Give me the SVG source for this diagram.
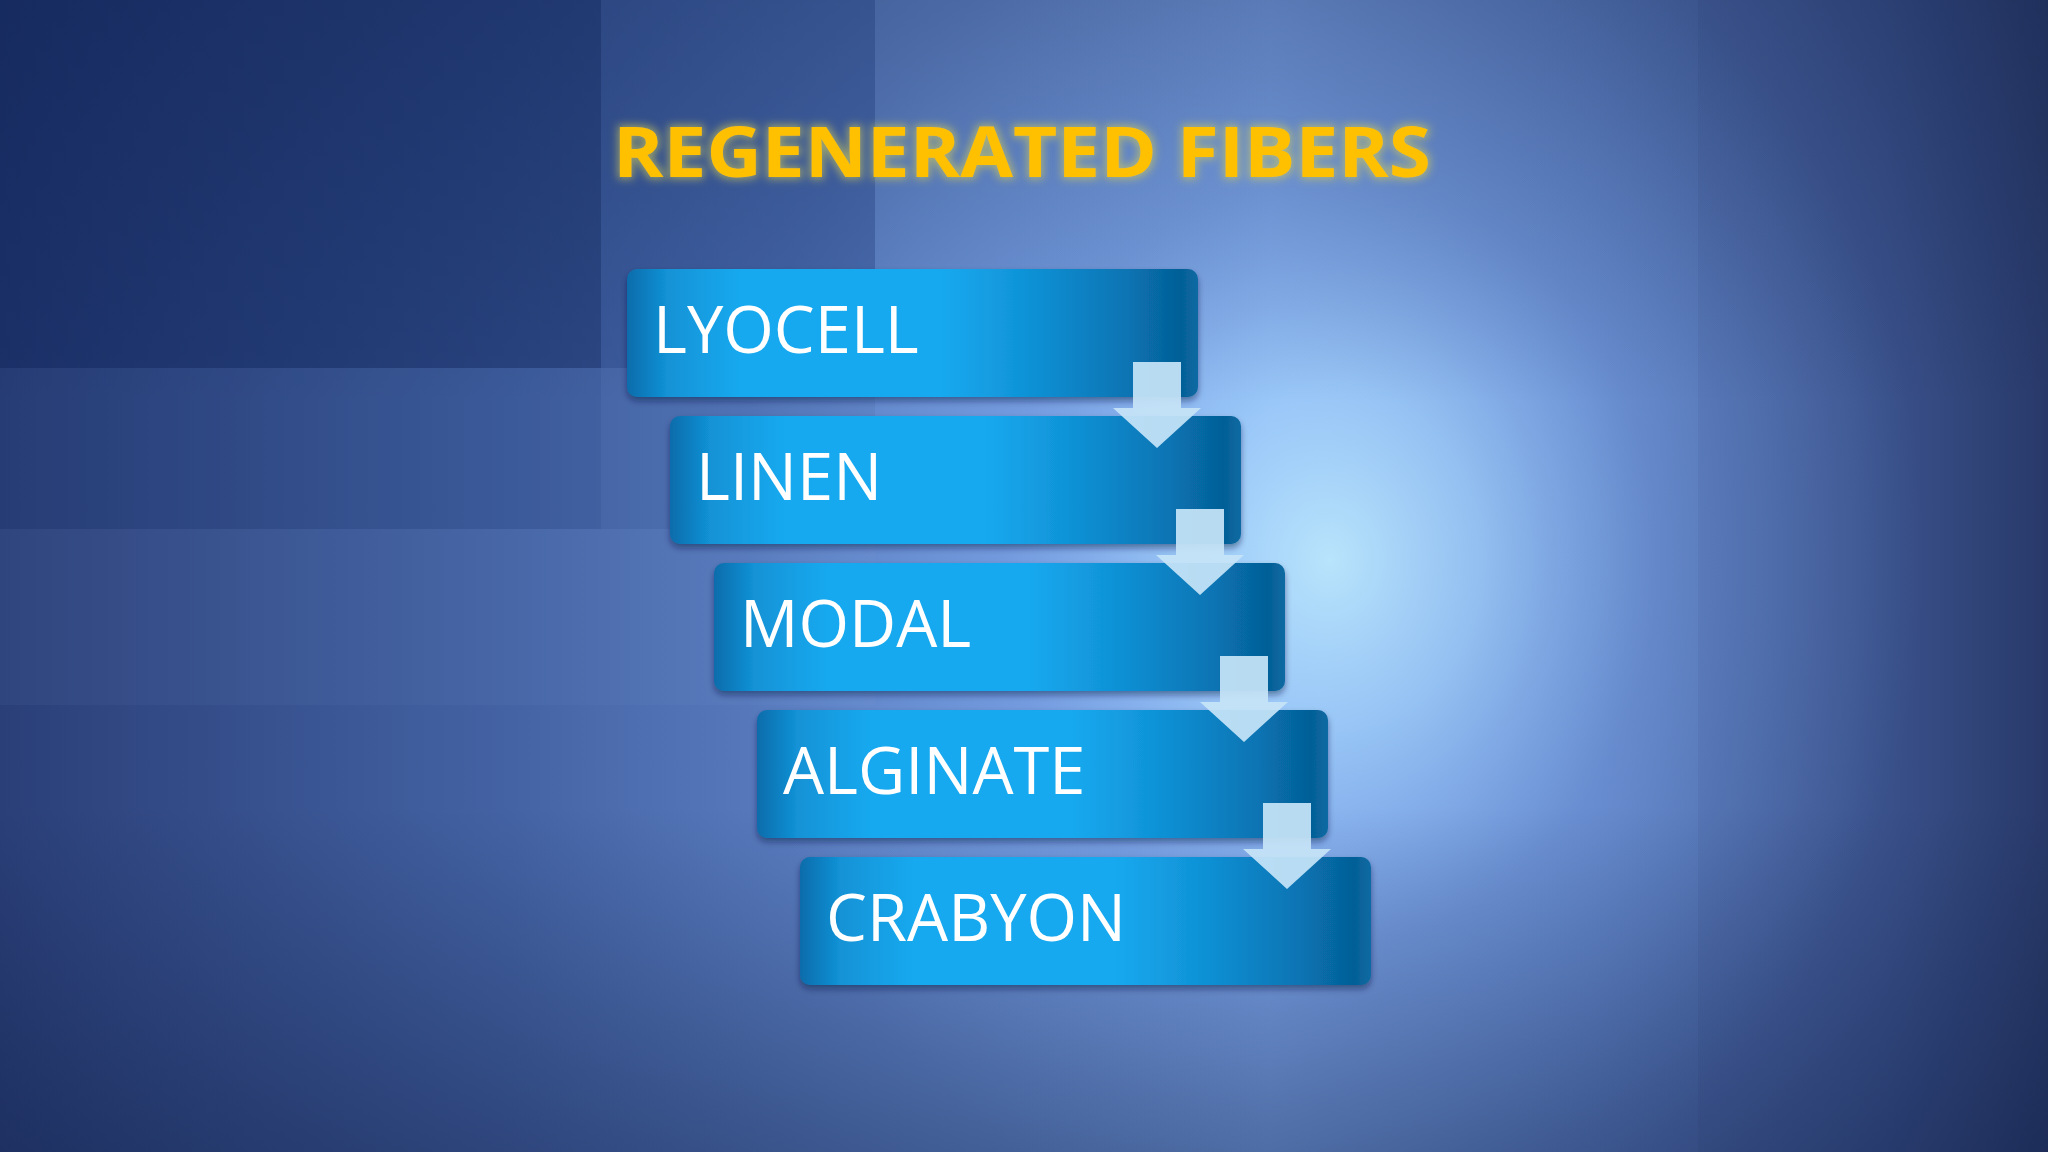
<svg xmlns="http://www.w3.org/2000/svg" width="2048" height="1152" viewBox="0 0 2048 1152">
<defs>
<linearGradient id="bgH" x1="0" y1="0" x2="1" y2="0">
<stop offset="0" stop-color="#2a3f78"/>
<stop offset="0.25" stop-color="#4463a4"/>
<stop offset="0.45" stop-color="#6388cc"/>
<stop offset="0.62" stop-color="#7aa2e8"/>
<stop offset="0.78" stop-color="#5a7cc0"/>
<stop offset="0.92" stop-color="#3c5590"/>
<stop offset="1" stop-color="#2a3c6c"/>
</linearGradient>
<linearGradient id="bgV" x1="0" y1="0" x2="0" y2="1">
<stop offset="0" stop-color="#0c1a40" stop-opacity="0.3"/>
<stop offset="0.35" stop-color="#0c1a40" stop-opacity="0"/>
<stop offset="0.7" stop-color="#0c1a40" stop-opacity="0"/>
<stop offset="1" stop-color="#0c1a40" stop-opacity="0.4"/>
</linearGradient>
<radialGradient id="glow" cx="1330" cy="560" r="700" gradientUnits="userSpaceOnUse" gradientTransform="translate(1330 560) scale(0.85 1) translate(-1330 -560)">
<stop offset="0" stop-color="#c0ecff" stop-opacity="0.9"/>
<stop offset="0.25" stop-color="#a6d6ff" stop-opacity="0.7"/>
<stop offset="0.55" stop-color="#88b4f4" stop-opacity="0.3"/>
<stop offset="1" stop-color="#80b0f0" stop-opacity="0"/>
</radialGradient>
<linearGradient id="boxGrad" x1="0" y1="0" x2="1" y2="0">
<stop offset="0" stop-color="#0a6cab"/>
<stop offset="0.07" stop-color="#1292d6"/>
<stop offset="0.2" stop-color="#17a9ef"/>
<stop offset="0.55" stop-color="#17a9ef"/>
<stop offset="0.72" stop-color="#0f8fd3"/>
<stop offset="0.88" stop-color="#0873b2"/>
<stop offset="0.97" stop-color="#055f96"/>
<stop offset="1" stop-color="#0a6aa3"/>
</linearGradient>
<filter id="shadow" x="-5%" y="-10%" width="110%" height="130%">
<feDropShadow dx="0" dy="4" stdDeviation="3" flood-color="#0a1840" flood-opacity="0.45"/>
</filter>
<filter id="titleGlow" x="-5%" y="-30%" width="110%" height="160%">
<feMorphology in="SourceAlpha" operator="dilate" radius="2" result="d"/>
<feGaussianBlur in="d" stdDeviation="4" result="b"/>
<feFlood flood-color="#d8d050" flood-opacity="0.6"/>
<feComposite in2="b" operator="in" result="g"/>
<feMerge><feMergeNode in="g"/><feMergeNode in="SourceGraphic"/></feMerge>
</filter>
<style>
.box{fill:url(#boxGrad);filter:url(#shadow);}
.lbl{font-family:"Open Sans","Noto Sans","DejaVu Sans",sans-serif;font-size:65px;fill:#ffffff;}
.arrow{fill:#c6e4f7;fill-opacity:0.93;}
.title{font-family:"Open Sans","Noto Sans","DejaVu Sans",sans-serif;font-weight:700;font-size:70px;fill:#ffc000;}
</style>
</defs>

<g id="background">
<rect x="0" y="0" width="2048" height="1152" fill="url(#bgH)"/>
<rect x="0" y="0" width="2048" height="1152" fill="url(#glow)"/>
<rect x="0" y="0" width="2048" height="1152" fill="url(#bgV)"/>
<rect x="0" y="0" width="601" height="368" fill="#0c2258" fill-opacity="0.5"/>
<rect x="601" y="0" width="274" height="368" fill="#15306c" fill-opacity="0.3"/>
<rect x="0" y="368" width="601" height="161" fill="#15306c" fill-opacity="0.18"/>
<rect x="601" y="368" width="274" height="161" fill="#15306c" fill-opacity="0.08"/>
<rect x="0" y="529" width="875" height="176" fill="#8aa8e0" fill-opacity="0.06"/>
<rect x="1698" y="0" width="350" height="1152" fill="#0c1a40" fill-opacity="0.05"/>
</g>

<g id="title">
<text class="title" x="613" y="177" textLength="818" lengthAdjust="spacingAndGlyphs" filter="url(#titleGlow)">REGENERATED FIBERS</text>
</g>

<g id="node-lyocell">
<rect class="box" x="627" y="269" width="571" height="128" rx="10"/>
<text class="lbl" x="653" y="353">LYOCELL</text>
</g>
<g id="node-linen">
<rect class="box" x="670" y="416" width="571" height="128" rx="10"/>
<text class="lbl" x="696" y="500">LINEN</text>
</g>
<g id="node-modal">
<rect class="box" x="714" y="563" width="571" height="128" rx="10"/>
<text class="lbl" x="740" y="647">MODAL</text>
</g>
<g id="node-alginate">
<rect class="box" x="757" y="710" width="571" height="128" rx="10"/>
<text class="lbl" x="783" y="794">ALGINATE</text>
</g>
<g id="node-crabyon">
<rect class="box" x="800" y="857" width="571" height="128" rx="10"/>
<text class="lbl" x="826" y="941">CRABYON</text>
</g>

<g id="connectors">
<polygon class="arrow" points="1133,362 1181,362 1181,408 1201,408 1157,448 1113,408 1133,408"/>
<polygon class="arrow" points="1176,509 1224,509 1224,555 1244,555 1200,595 1156,555 1176,555"/>
<polygon class="arrow" points="1220,656 1268,656 1268,702 1288,702 1244,742 1200,702 1220,702"/>
<polygon class="arrow" points="1263,803 1311,803 1311,849 1331,849 1287,889 1243,849 1263,849"/>
</g>
</svg>
